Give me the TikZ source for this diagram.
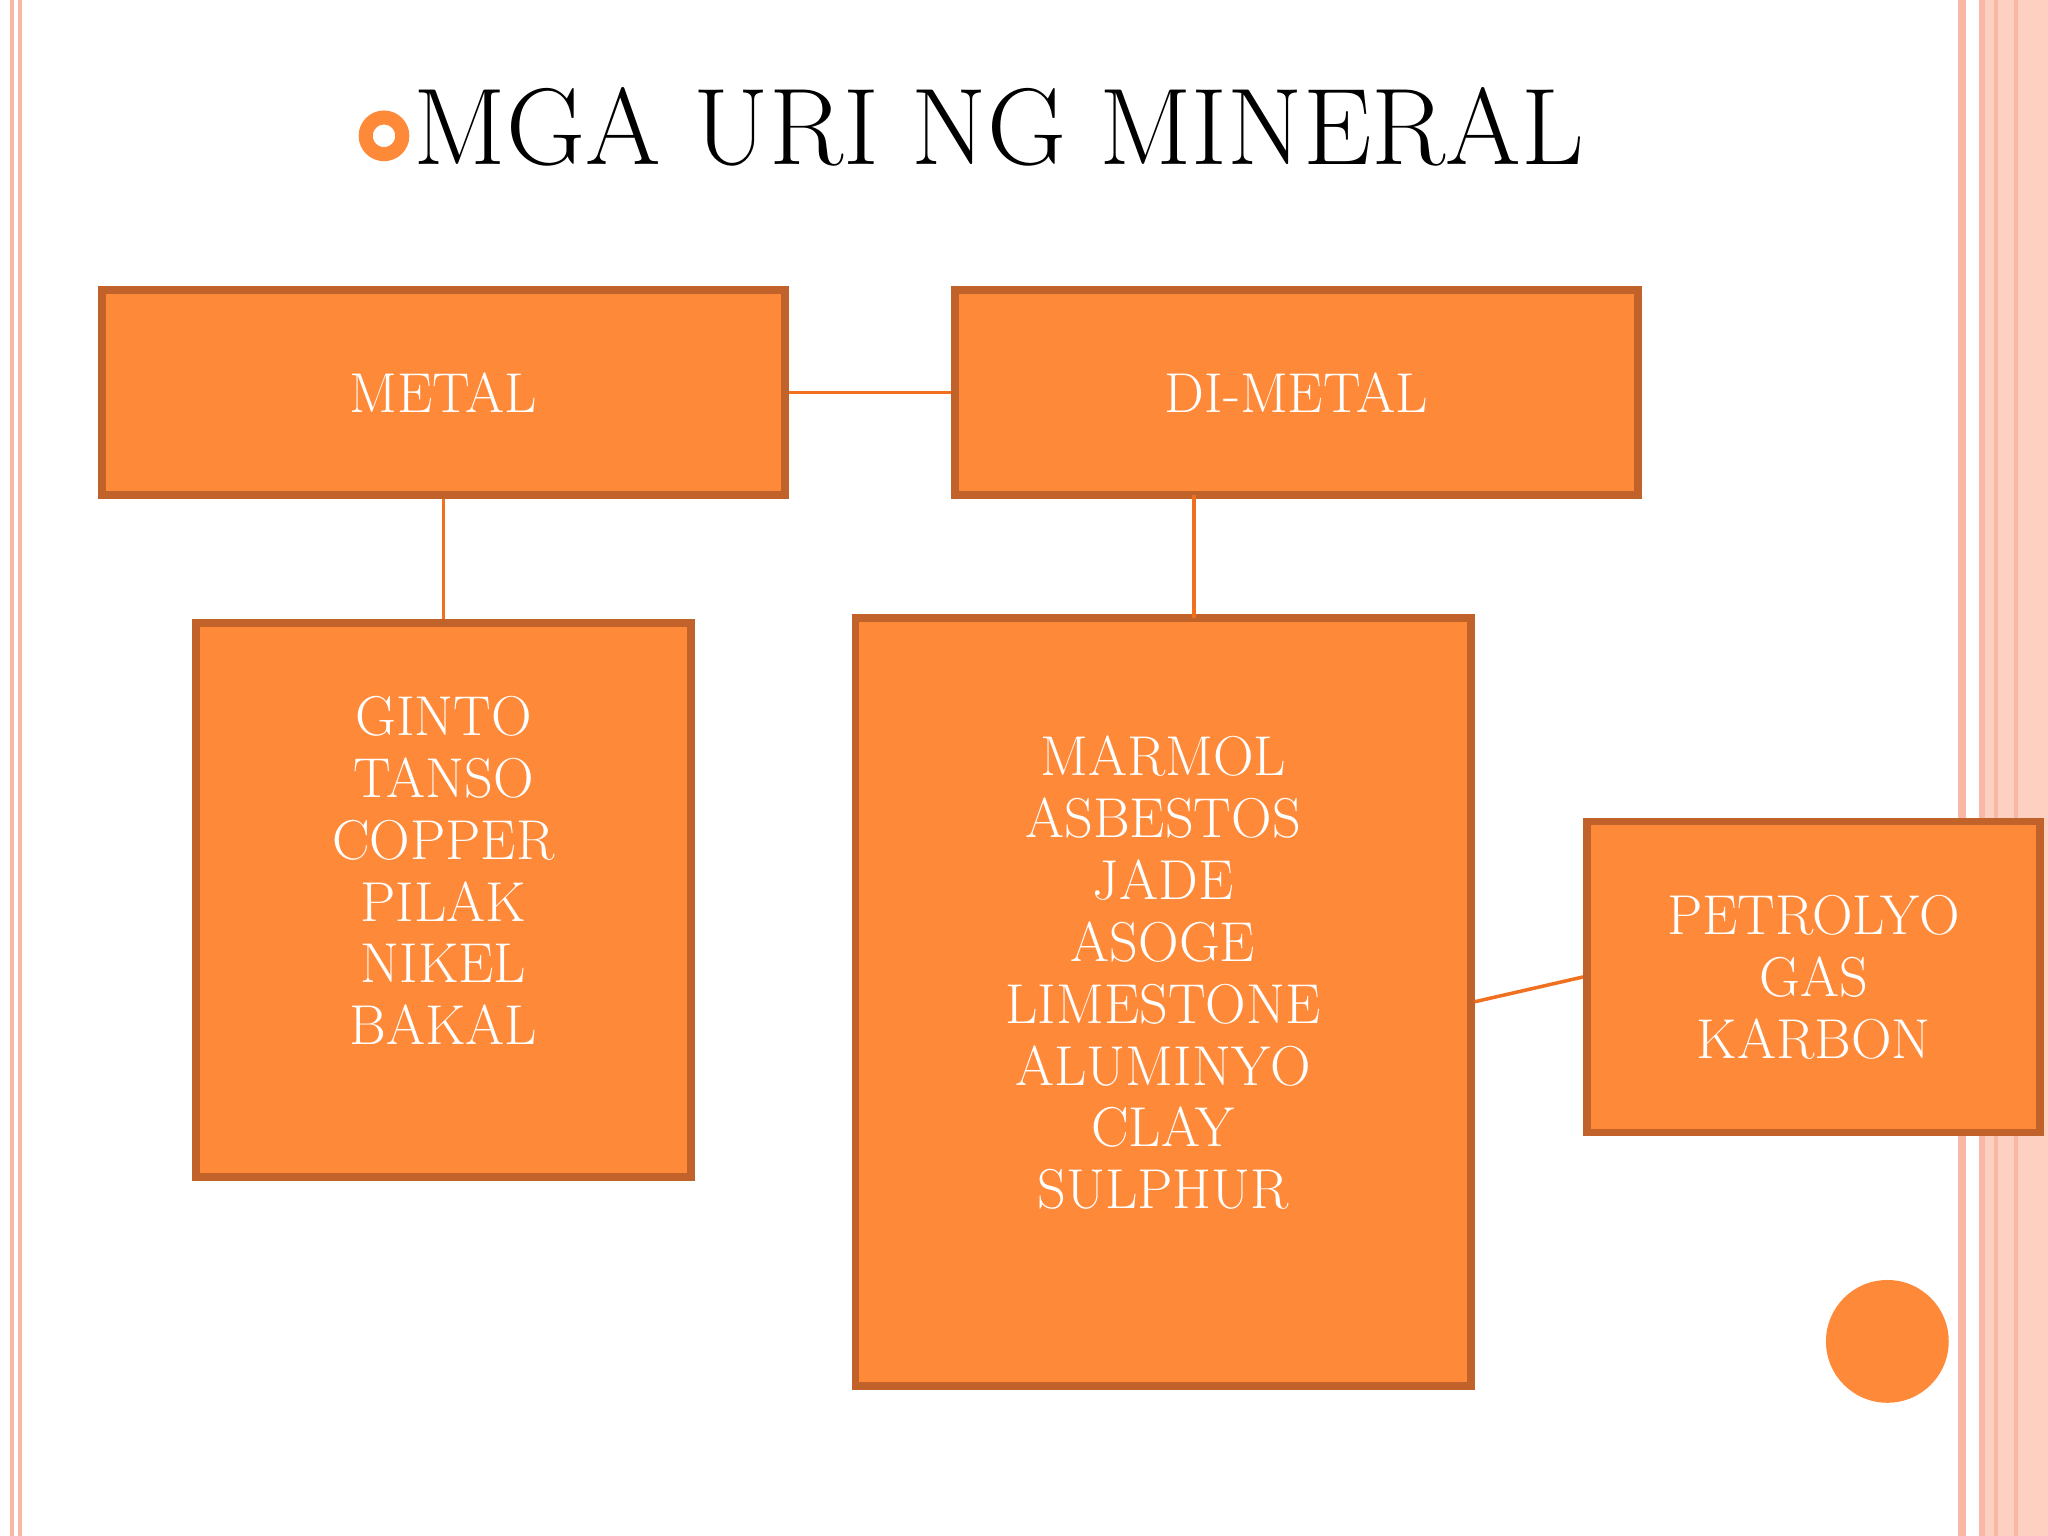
\documentclass[tikz,border=0pt]{standalone}
\usepackage{fontspec}
\begin{document}
\begin{tikzpicture}[x=0.013061cm,y=-0.013061cm,
  box/.style={draw=boxline,line width=2.2pt,fill=boxfill,inner sep=0pt,text=white,align=center,font=\fontsize{16}{17.6}\selectfont},
  conn/.style={draw=connc,line width=1pt}]
\definecolor{boxfill}{HTML}{FE8939}
\definecolor{boxline}{HTML}{C0622A}
\definecolor{connc}{HTML}{F07020}
\definecolor{stripe}{HTML}{F9B7A5}
\definecolor{band}{HTML}{FDD0C2}
\useasboundingbox (0,0) rectangle (1568,1176);
\fill[white] (0,0) rectangle (1568,1176);
% borders
\fill[stripe] (8,0) rectangle (11,1176);
\fill[stripe] (14,0) rectangle (17,1176);
\fill[stripe] (1499,0) rectangle (1505,1176);
\fill[band] (1515,0) rectangle (1568,1176);
\fill[stripe] (1515,0) rectangle (1520,1176);
\fill[stripe] (1527,0) rectangle (1530,1176);
\fill[stripe] (1542,0) rectangle (1545,1176);
% title
\draw[boxfill,line width=4pt] (294,104) circle [radius=0.183cm];
\node[anchor=west,inner sep=0pt,font=\fontsize{31}{31}\selectfont] (title) at (316,97) {MGA URI NG MINERAL};
% boxes
\node[box,minimum width=6.831cm,minimum height=2.051cm] (metal) at (339.5,300.5) {METAL};
\node[box,minimum width=6.831cm,minimum height=2.051cm] (dimetal) at (992.5,300.5) {DI-METAL};
\node[box,minimum width=4.950cm,minimum height=5.538cm] (ginto) at (339.5,689) {GINTO\\TANSO\\COPPER\\PILAK\\NIKEL\\BAKAL\\[-0.03cm]\mbox{}};
\node[box,minimum width=6.152cm,minimum height=7.680cm] (marmol) at (890.5,767) {MARMOL\\ASBESTOS\\JADE\\ASOGE\\LIMESTONE\\ALUMINYO\\CLAY\\SULPHUR\\[-0.03cm]\mbox{}};
\node[box,minimum width=4.532cm,minimum height=3.109cm] (petro) at (1388.5,748) {PETROLYO\\GAS\\KARBON};
\fill[boxfill] (1445,1027) circle [radius=0.614cm];
% connectors
\coordinate (c1) at (914,379);
\coordinate (c2) at (914,473);
\draw[conn] (metal.east) -- (dimetal.west);
\draw[conn] (metal.south) -- (ginto.north);
\draw[conn] (c1) -- (c2);
\draw[conn] (marmol.east) -- (petro.west);
\end{tikzpicture}
\end{document}
